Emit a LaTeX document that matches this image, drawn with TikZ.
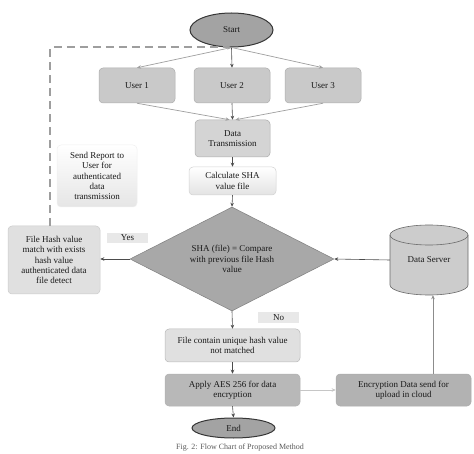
\documentclass[tikz,border=0pt]{standalone}
\usepackage{fontspec}
\setmainfont{Liberation Serif}
\usetikzlibrary{shapes.geometric,arrows.meta}
\definecolor{cText}{gray}{0.1}
\definecolor{cStart}{gray}{0.64}
\definecolor{cUser}{gray}{0.79}
\definecolor{cUserB}{gray}{0.68}
\definecolor{cDT}{gray}{0.83}
\definecolor{cDia}{gray}{0.66}
\definecolor{cDiaB}{gray}{0.5}
\definecolor{cHash}{gray}{0.88}
\definecolor{cLbl}{gray}{0.91}
\definecolor{cSrv}{gray}{0.8}
\definecolor{cSrvB}{gray}{0.42}
\definecolor{cFC}{gray}{0.88}
\definecolor{cAES}{gray}{0.72}
\definecolor{cEnc}{gray}{0.7}
\definecolor{cLine}{gray}{0.3}
\definecolor{cLight}{gray}{0.55}
\definecolor{cDash}{gray}{0.62}
\tikzset{
  txt/.style={font=\fontsize{9}{10.3}\selectfont, text=cText, align=center, inner sep=1pt},
  ovalnode/.style={txt, ellipse, draw=cLine!70!black, line width=1pt, fill=cStart},
  box/.style={txt, rectangle, rounded corners=4pt, draw=cUserB, line width=0.5pt, minimum width=#1},
  userbox/.style={box=76pt, fill=cUser, minimum height=35pt},
  lbl/.style={txt, fill=cLbl, minimum width=41pt, minimum height=10pt, inner sep=0pt},
  arr/.style={draw=cLine, line width=0.6pt, -{Stealth[length=4pt,width=3.5pt]}},
  garr/.style={draw=gray!75, line width=0.7pt, -{Stealth[length=4pt,width=3.5pt]}},
  dasharr/.style={draw=cDash, line width=2pt, dash pattern=on 8pt off 5pt, -{Stealth[length=4pt,width=4pt]}}
}
\begin{document}
\begin{tikzpicture}[x=1pt,y=-1pt]
\useasboundingbox[fill=white] (0,0) rectangle (474,454);

% nodes
\node[ovalnode, minimum width=83pt, minimum height=34pt] (start) at (231.5,30) {Start};
\node[userbox] (u1) at (137,85.5) {User 1};
\node[userbox] (u2) at (232,85.5) {User 2};
\node[userbox] (u3) at (323,85.5) {User 3};
\node[box=75pt, fill=cDT, minimum height=37pt] (dt) at (232.5,138.5) {Data\\Transmission};
\node[box=87pt, draw=gray!35, top color=white, bottom color=gray!22, minimum height=28pt] (sha) at (232.5,181) {Calculate SHA\\value file};
\node[box=80pt, draw=gray!12, top color=white, bottom color=gray!20, minimum height=62pt] (rep) at (97,176) {Send Report to\\User for\\authenticated\\data\\transmission};
\node[txt, diamond, draw=cDiaB, fill=cDia, line width=0.5pt, minimum width=204pt, minimum height=104pt, aspect=1.96] (dia) at (232,259) {SHA (file) = Compare\\with previous file Hash\\value};
\node[box=92pt, draw=gray!40, fill=cHash, minimum height=68pt] (hash) at (54,260) {File Hash value\\match with exists\\hash value\\authenticated data\\file detect};
\node[lbl] (yes) at (127.5,238) {Yes};
\node[lbl, minimum height=11pt] (no) at (278.5,318) {No};

% data server cylinder
\node[txt, minimum width=78pt, minimum height=70pt] (server) at (429,260) {};
\fill[cSrv] (390,235) -- (390,285) arc[start angle=180, end angle=360, x radius=39pt, y radius=10pt]
  -- (468,235) arc[start angle=0, end angle=180, x radius=39pt, y radius=10pt] -- cycle;
\draw[cSrvB, line width=0.6pt] (390,235) -- (390,285) arc[start angle=180, end angle=360, x radius=39pt, y radius=10pt] -- (468,235);
\draw[cSrvB, line width=0.6pt] (429,235) ellipse[x radius=39pt, y radius=10pt];
\node[txt] (srvtext) at (server.center) {Data Server};

\node[box=135pt, draw=gray!55, fill=cFC, minimum height=33pt] (fc) at (232.5,345.5) {File contain unique hash value\\not matched};
\node[box=135pt, draw=gray!60, fill=cAES, minimum height=32pt] (aes) at (232.5,390) {Apply AES 256 for data\\encryption};
\node[box=135pt, draw=gray!65, fill=cEnc, minimum height=32pt] (enc) at (403.5,390) {Encryption Data send for\\upload in cloud};
\node[ovalnode, minimum width=83pt, minimum height=20pt, inner sep=0pt] (end) at (233.5,428) {End};
\node[txt, font=\fontsize{8}{10}\selectfont, text=gray!70!black] (cap) at (240,448) {Fig. 2: Flow Chart of Proposed Method};

% connectors
\draw[garr] (start.south) -- (u1.north);
\draw[arr] (start.south) -- (u2.north);
\draw[garr] (start.south) -- (u3.north);
\draw[garr] (u1.south) -- ([xshift=-3pt]dt.north);
\draw[arr] (u2.south) -- (dt.north);
\draw[garr] (u3.south) -- ([xshift=3pt]dt.north);
\draw[arr] (dt.south) -- (sha.north);
\draw[arr] (sha.south) -- (dia.north);
\draw[arr] (dia.west) -- (dia.west -| hash.east);
\draw[arr] (server.west) -- (dia.east);
\draw[arr] (dia.south) -- (fc.north);
\draw[arr] (fc.south) -- (aes.north);
\draw[arr] (aes.south) -- (end.north);
\draw[draw=gray!45, line width=0.8pt, -{Stealth[length=4pt,width=3.5pt]}] (aes.east) -- (enc.west);
\draw[arr, draw=cLight] ([xshift=4pt]enc.north -| server.south) -- ([xshift=4pt]server.south);
\coordinate (dcorner) at (50,48);
\draw[dasharr] (hash.north -| dcorner) |- (start.south);
\end{tikzpicture}
\end{document}
